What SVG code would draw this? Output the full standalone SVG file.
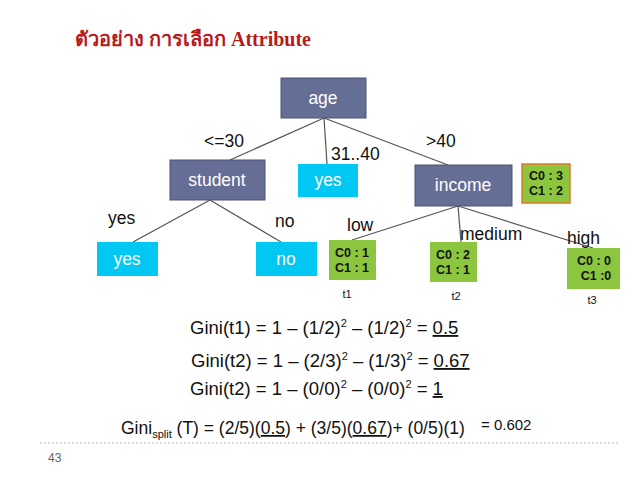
<svg xmlns="http://www.w3.org/2000/svg" width="638" height="478" viewBox="0 0 638 478">
<style>
.n{fill:#656e95;stroke:#4a5275;stroke-width:1}
.c{fill:#00c8f2}
.g{fill:#8cc63f}
.w{font-family:"Liberation Sans",Arial,sans-serif;font-size:17.5px;fill:#fff;text-anchor:middle}
.l{font-family:"Liberation Sans",Arial,sans-serif;font-size:17.5px;fill:#111}
.b{font-family:"Liberation Sans",Arial,sans-serif;font-size:12.5px;font-weight:bold;fill:#111;text-anchor:middle}
.s{font-family:"Liberation Sans",Arial,sans-serif;font-size:11px;fill:#111;text-anchor:middle}
.f{font-family:"Liberation Sans",Arial,sans-serif;font-size:18.5px;fill:#111}
.e line{stroke:#555;stroke-width:1.2}
</style>
<rect width="638" height="478" fill="#fff"/>
<text x="75" y="46" font-family="'Liberation Serif','Noto Sans',serif" font-size="20" font-weight="bold" fill="#b81a1a">ตัวอย่าง การเลือก Attribute</text>
<g class="e" id="connectors">
<line x1="324" y1="118" x2="230" y2="160"/><line x1="324" y1="118" x2="327" y2="164"/><line x1="324" y1="118" x2="448" y2="165"/>
<line x1="210" y1="200" x2="133" y2="242"/><line x1="210" y1="200" x2="281" y2="242"/>
<line x1="458" y1="206" x2="352" y2="240"/><line x1="458" y1="206" x2="461" y2="242"/><line x1="458" y1="206" x2="593" y2="248"/>
</g>
<g id="age"><rect class="n" x="281" y="78" width="85" height="40"/><text class="w" x="323" y="104">age</text></g>
<g id="student"><rect class="n" x="170" y="160" width="95" height="40"/><text class="w" x="217" y="186">student</text></g>
<g id="yes-mid"><rect class="c" x="298" y="164" width="60" height="33"/><text class="w" x="328" y="186">yes</text></g>
<g id="income"><rect class="n" x="415" y="165" width="97" height="41"/><text class="w" x="463" y="191">income</text></g>
<g id="c0-3"><rect class="g" x="522" y="164" width="48" height="39" stroke="#e0782a" stroke-width="1.5"/><text class="b" x="546" y="180">C0 : 3</text><text class="b" x="546" y="195">C1 : 2</text></g>
<g id="yes-leaf"><rect class="c" x="97" y="242" width="61" height="34"/><text class="w" x="127" y="265">yes</text></g>
<g id="no-leaf"><rect class="c" x="256" y="242" width="61" height="34"/><text class="w" x="286" y="265">no</text></g>
<g id="t1"><rect class="g" x="329" y="240" width="47" height="40"/><text class="b" x="352" y="257">C0 : 1</text><text class="b" x="352" y="272">C1 : 1</text><text class="s" x="347" y="298">t1</text></g>
<g id="t2"><rect class="g" x="430" y="242" width="47" height="40"/><text class="b" x="453" y="259">C0 : 2</text><text class="b" x="453" y="274">C1 : 1</text><text class="s" x="456" y="300">t2</text></g>
<g id="t3"><rect class="g" x="567" y="248" width="53" height="41"/><text class="b" x="594" y="265">C0 : 0</text><text class="b" x="596" y="280">C1 :0</text><text class="s" x="592" y="304">t3</text></g>
<text class="l" x="204" y="147">&lt;=30</text><text class="l" x="331" y="160">31..40</text><text class="l" x="426" y="147">&gt;40</text>
<text class="l" x="108" y="224">yes</text><text class="l" x="275" y="227">no</text><text class="l" x="347" y="231">low</text><text class="l" x="460" y="240">medium</text><text class="l" x="567" y="244">high</text>
<text class="f" x="190" y="334">Gini(t1)  = 1 – (1/2)<tspan font-size="11" dy="-7">2</tspan><tspan dy="7"> – (1/2)</tspan><tspan font-size="11" dy="-7">2</tspan><tspan dy="7"> = </tspan><tspan text-decoration="underline">0.5</tspan></text>
<text class="f" x="191" y="367">Gini(t2) = 1 – (2/3)<tspan font-size="11" dy="-7">2</tspan><tspan dy="7"> – (1/3)</tspan><tspan font-size="11" dy="-7">2</tspan><tspan dy="7"> = </tspan><tspan text-decoration="underline">0.67</tspan></text>
<text class="f" x="190" y="395">Gini(t2) = 1 – (0/0)<tspan font-size="11" dy="-7">2</tspan><tspan dy="7"> – (0/0)</tspan><tspan font-size="11" dy="-7">2</tspan><tspan dy="7"> = </tspan><tspan text-decoration="underline">1</tspan></text>
<text x="121" y="434" font-family="'Liberation Sans',Arial,sans-serif" font-size="17.5" fill="#111">Gini<tspan font-size="11" dy="4">split</tspan><tspan dy="-4"> (T) = (2/5)(</tspan><tspan text-decoration="underline">0.5</tspan>) + (3/5)(<tspan text-decoration="underline">0.67</tspan>)+ (0/5)(1)</text>
<text x="481" y="430" font-family="'Liberation Sans',Arial,sans-serif" font-size="15" fill="#111">= 0.602</text>
<line x1="40" y1="443" x2="620" y2="443" stroke="#bbb" stroke-dasharray="2,2"/>
<text x="48" y="462" font-family="'Liberation Sans',Arial,sans-serif" font-size="12" fill="#666">43</text>
</svg>
